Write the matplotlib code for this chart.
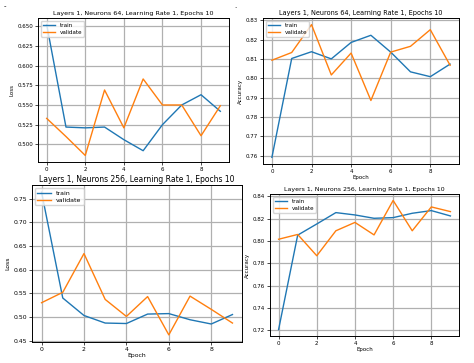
# Training curves for two single-layer nets (64 and 256 neurons)
import matplotlib.pyplot as plt
from matplotlib.ticker import MultipleLocator
from matplotlib.transforms import Bbox, TransformedBbox

epochs = list(range(10))

loss_train_64 = [0.652, 0.522, 0.521, 0.522, 0.506, 0.492, 0.525, 0.550, 0.563, 0.542]
loss_val_64 = [0.533, 0.510, 0.486, 0.569, 0.521, 0.583, 0.550, 0.550, 0.511, 0.549]
acc_train_64 = [0.7591, 0.8102, 0.8137, 0.8100, 0.8185, 0.8222, 0.8135, 0.8033, 0.8008, 0.8073]
acc_val_64 = [0.8093, 0.8133, 0.8277, 0.8017, 0.8130, 0.7885, 0.8135, 0.8165, 0.8251, 0.8067]

loss_train_256 = [0.764, 0.540, 0.503, 0.487, 0.486, 0.506, 0.507, 0.494, 0.485, 0.505]
loss_val_256 = [0.530, 0.552, 0.634, 0.537, 0.501, 0.543, 0.462, 0.544, 0.516, 0.487]
acc_train_256 = [0.7206, 0.8053, 0.8153, 0.8255, 0.8234, 0.8204, 0.8210, 0.8249, 0.8273, 0.8225]
acc_val_256 = [0.8016, 0.8059, 0.7868, 0.8092, 0.8167, 0.8055, 0.8364, 0.8092, 0.8306, 0.8264]

W, H = 474, 363

plt.rcParams['axes.grid'] = True
plt.rcParams['grid.color'] = '#b0b0b0'
plt.rcParams['grid.linewidth'] = 0.9
plt.rcParams['grid.alpha'] = 1.0


def add_panel(fig, box, train, val, ylabel, step, title, fs_title, fs, xlabel=True):
    x0, y0, x1, y1 = box
    ax = fig.add_axes([x0 / W, 1 - y1 / H, (x1 - x0) / W, (y1 - y0) / H])
    ax.plot(epochs, train, label='train', lw=1.0)
    ax.plot(epochs, val, label='validate', lw=1.0)
    ax.set_title(title, fontsize=fs_title, pad=2)
    ax.set_ylabel(ylabel, fontsize=fs, labelpad=2)
    if xlabel:
        ax.set_xlabel('Epoch', fontsize=fs, labelpad=1)
    ax.xaxis.set_major_locator(MultipleLocator(2))
    ax.yaxis.set_major_locator(MultipleLocator(step))
    ax.tick_params(labelsize=fs, length=2, width=0.5, pad=1.5)
    ax.set_axisbelow(True)
    ax.xaxis.grid(True)
    ax.yaxis.grid(True)
    for s in ax.spines.values():
        s.set_linewidth(0.7)
    ax.legend(loc='upper left', fontsize=fs + 0.1, handlelength=2.2,
              borderpad=0.35, labelspacing=0.3, framealpha=0.8)
    return ax


def main():
    fig = plt.figure(figsize=(4.74, 3.63), dpi=100)

    add_panel(fig, (38, 18, 229, 162), loss_train_64, loss_val_64, 'Loss', 0.025,
              'Layers 1, Neurons 64, Learning Rate 1, Epochs 10', 4.6, 4.0, xlabel=False)
    ax = add_panel(fig, (263, 18, 459, 164), acc_train_64, acc_val_64, 'Accuracy', 0.01,
                   'Layers 1, Neurons 64, Learning Rate 1, Epochs 10', 4.7, 4.0)
    # the screenshot below cuts this label in half
    ax.xaxis.label.set_clip_box(TransformedBbox(Bbox([[0, 1 - 180 / H], [1, 1]]), fig.transFigure))
    ax.xaxis.label.set_clip_on(True)

    add_panel(fig, (32, 185, 242, 342), loss_train_256, loss_val_256, 'Loss', 0.05,
              'Layers 1, Neurons 256, Learning Rate 1, Epochs 10', 5.5, 4.4)
    add_panel(fig, (270, 194, 459, 336), acc_train_256, acc_val_256, 'Accuracy', 0.02,
              'Layers 1, Neurons 256, Learning Rate 1, Epochs 10', 4.5, 4.0)

    # stray marks from the pasted screenshots
    fig.text(4 / W, 1 - 6 / H, '-', fontsize=5, va='center')
    fig.text(234 / W, 1 - 6 / H, '.', fontsize=5, va='center')

    fig.savefig('out.png', dpi=100)


if __name__ == '__main__':
    main()
